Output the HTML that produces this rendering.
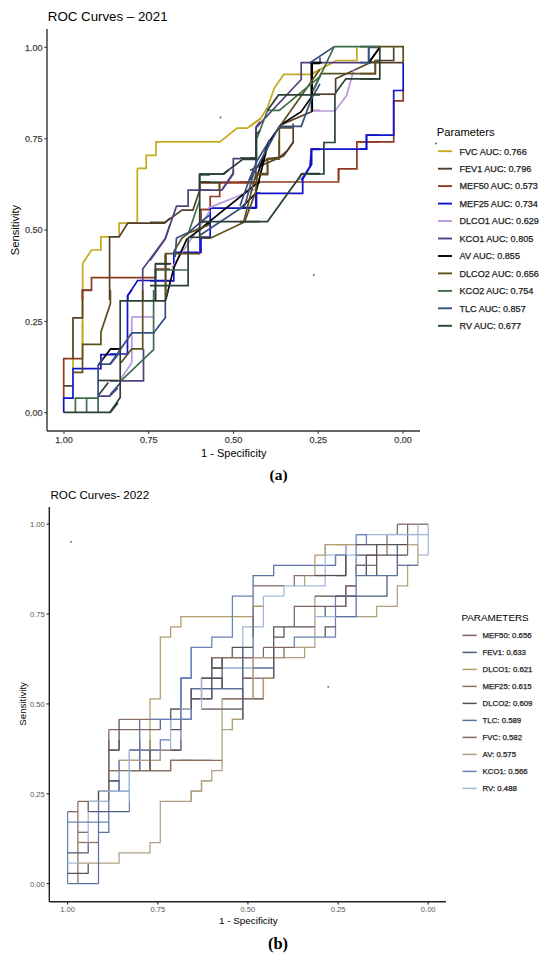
<!DOCTYPE html>
<html><head><meta charset="utf-8"><style>html,body{margin:0;padding:0;background:#fff;width:550px;height:956px;overflow:hidden}</style></head><body>
<svg width="550" height="956" viewBox="0 0 550 956" style="position:absolute;left:0;top:0" font-family='"Liberation Sans", sans-serif'>
<rect width="550" height="956" fill="#fff"/>
<path d="M73.0,368.6 L73.0,358.7" fill="none" stroke="#C4AA1E" stroke-width="1.7" stroke-linejoin="miter"/>
<path d="M82.5,344.4 L82.5,321.3" fill="none" stroke="#C4AA1E" stroke-width="1.7" stroke-linejoin="miter"/>
<path d="M82.7,290.4 L82.7,263.6 L91.5,250.0 L100.9,250.0 L100.9,236.9 L109.6,236.9" fill="none" stroke="#C4AA1E" stroke-width="1.7" stroke-linejoin="miter"/>
<path d="M119.1,236.9 L119.1,223.1 L137.3,223.1 L137.3,168.4" fill="none" stroke="#C4AA1E" stroke-width="1.7" stroke-linejoin="miter"/>
<path d="M250.0,126.4 L260.2,119.1 L267.6,107.3 L274.2,88.3 L283.7,74.4 L311.5,74.4 L320.0,70.0" fill="none" stroke="#C4AA1E" stroke-width="1.7" stroke-linejoin="miter"/>
<path d="M310.0,74.4 L323.2,67.8 L336.4,60.5 L356.9,60.5 L356.9,47.3" fill="none" stroke="#C4AA1E" stroke-width="1.7" stroke-linejoin="miter"/>
<path d="M190.0,141.9 L219.9,141.9 L237.1,128.2 L247.3,128.2 L260.0,118.6" fill="none" stroke="#C4AA1E" stroke-width="1.7" stroke-linejoin="miter"/>
<path d="M137.3,168.4 L146.2,168.4 L146.2,155.3 L156.0,155.3 L156.0,141.8 L190.0,141.8" fill="none" stroke="#C4AA1E" stroke-width="1.7" stroke-linejoin="miter"/>
<path d="M82.6,358.7 L82.6,290.0" fill="none" stroke="#C4AA1E" stroke-width="1.7" stroke-linejoin="miter"/>
<path d="M63.7,385.9 L73.0,385.9" fill="none" stroke="#523E2A" stroke-width="1.7" stroke-linejoin="miter"/>
<path d="M73.0,358.7 L73.0,317.9 L82.5,317.9 L82.5,290.0 L91.3,290.0" fill="none" stroke="#523E2A" stroke-width="1.7" stroke-linejoin="miter"/>
<path d="M109.6,300.0 L109.6,236.9 L119.1,236.9 L127.8,223.1 L164.5,223.1 L170.0,218.2" fill="none" stroke="#523E2A" stroke-width="1.7" stroke-linejoin="miter"/>
<path d="M150.0,222.4 L165.0,222.4 L182.0,210.1 L192.9,210.1 L199.7,190.4 L199.7,182.2 L210.0,182.2" fill="none" stroke="#523E2A" stroke-width="1.7" stroke-linejoin="miter"/>
<path d="M280.7,124.9 L311.5,111.7 L311.5,63.4" fill="none" stroke="#523E2A" stroke-width="1.7" stroke-linejoin="miter"/>
<path d="M293.2,123.5 L293.2,142.5 L283.7,155.7 L250.0,170.3" fill="none" stroke="#523E2A" stroke-width="1.7" stroke-linejoin="miter"/>
<path d="M335.6,94.2 L335.6,78.8 L371.5,62.0 L380.0,62.0" fill="none" stroke="#523E2A" stroke-width="1.7" stroke-linejoin="miter"/>
<path d="M312.9,94.2 L335.6,94.2" fill="none" stroke="#523E2A" stroke-width="1.7" stroke-linejoin="miter"/>
<path d="M312.2,91.2 L312.2,111.7" fill="none" stroke="#523E2A" stroke-width="1.7" stroke-linejoin="miter"/>
<path d="M375.4,60.5 L393.7,60.5 L393.7,47.3" fill="none" stroke="#523E2A" stroke-width="1.7" stroke-linejoin="miter"/>
<path d="M368.8,62.7 L403.2,62.7" fill="none" stroke="#523E2A" stroke-width="1.7" stroke-linejoin="miter"/>
<path d="M255.7,168.2 L267.5,158.8 L279.2,157.3 L287.1,151.0 L293.3,141.6" fill="none" stroke="#523E2A" stroke-width="1.7" stroke-linejoin="miter"/>
<path d="M63.7,398.2 L63.7,358.7 L82.5,358.7" fill="none" stroke="#8E3A20" stroke-width="1.7" stroke-linejoin="miter"/>
<path d="M82.4,300.0 L82.4,290.4 L91.5,290.4 L91.5,277.6 L155.5,277.6 L155.5,269.1 L170.0,269.1" fill="none" stroke="#8E3A20" stroke-width="1.7" stroke-linejoin="miter"/>
<path d="M165.5,255.5 L165.5,269.1" fill="none" stroke="#8E3A20" stroke-width="1.7" stroke-linejoin="miter"/>
<path d="M201.0,220.3 L201.0,209.5 L210.0,209.5" fill="none" stroke="#8E3A20" stroke-width="1.7" stroke-linejoin="miter"/>
<path d="M165.6,253.7 L165.6,263.9" fill="none" stroke="#8E3A20" stroke-width="1.7" stroke-linejoin="miter"/>
<path d="M221.8,182.2 L260.0,182.2" fill="none" stroke="#8E3A20" stroke-width="1.7" stroke-linejoin="miter"/>
<path d="M200.0,209.5 L210.2,209.5 L210.2,196.5 L219.7,196.5 L219.7,182.2" fill="none" stroke="#8E3A20" stroke-width="1.7" stroke-linejoin="miter"/>
<path d="M338.6,180.0 L338.6,168.8 L356.9,168.8 L356.9,141.8 L380.0,141.8" fill="none" stroke="#8E3A20" stroke-width="1.7" stroke-linejoin="miter"/>
<path d="M360.0,141.8 L393.7,141.8 L393.7,100.8 L403.2,100.8 L403.2,90.5" fill="none" stroke="#8E3A20" stroke-width="1.7" stroke-linejoin="miter"/>
<path d="M240.0,182.0 L320.0,182.0" fill="none" stroke="#8E3A20" stroke-width="1.7" stroke-linejoin="miter"/>
<path d="M200.8,182.9 L260.0,182.9" fill="none" stroke="#8E3A20" stroke-width="1.7" stroke-linejoin="miter"/>
<path d="M320.0,182.0 L338.5,182.0 L338.5,168.8" fill="none" stroke="#8E3A20" stroke-width="1.7" stroke-linejoin="miter"/>
<path d="M63.7,412.4 L63.7,398.2 L73.0,398.2 L73.0,368.6 L100.9,368.6 L100.9,354.6 L117.9,354.6" fill="none" stroke="#1212CC" stroke-width="1.7" stroke-linejoin="miter"/>
<path d="M110.0,354.0 L127.5,354.0 L127.5,295.8 L131.8,290.0" fill="none" stroke="#1212CC" stroke-width="1.7" stroke-linejoin="miter"/>
<path d="M127.8,300.0 L127.8,295.5 L137.6,280.5 L170.0,280.5" fill="none" stroke="#1212CC" stroke-width="1.7" stroke-linejoin="miter"/>
<path d="M150.0,280.9 L173.8,280.9 L173.8,252.3 L201.0,252.3 L201.0,238.0 L210.0,238.0" fill="none" stroke="#1212CC" stroke-width="1.7" stroke-linejoin="miter"/>
<path d="M200.0,251.6 L200.0,237.3 L210.2,237.3 L210.2,208.1 L255.8,208.1 L255.8,193.1 L260.0,193.1" fill="none" stroke="#1212CC" stroke-width="1.7" stroke-linejoin="miter"/>
<path d="M301.2,180.0 L311.5,164.5 L311.5,149.1 L320.0,149.1" fill="none" stroke="#1212CC" stroke-width="1.7" stroke-linejoin="miter"/>
<path d="M310.0,165.9 L311.5,149.1 L366.4,149.1 L366.4,135.2 L380.0,135.2" fill="none" stroke="#1212CC" stroke-width="1.7" stroke-linejoin="miter"/>
<path d="M360.0,149.1 L366.6,149.1 L366.6,135.2 L393.7,135.2 L393.7,90.5 L403.2,90.5 L403.2,62.7" fill="none" stroke="#1212CC" stroke-width="1.7" stroke-linejoin="miter"/>
<path d="M240.0,207.5 L256.5,207.5 L256.5,193.3 L302.7,193.3 L302.7,179.2 L311.4,164.3 L311.4,149.4 L320.0,149.4" fill="none" stroke="#1212CC" stroke-width="1.7" stroke-linejoin="miter"/>
<path d="M131.8,316.9 L153.6,316.9" fill="none" stroke="#BA9ADC" stroke-width="1.7" stroke-linejoin="miter"/>
<path d="M131.8,316.9 L131.8,362.7 L120.9,378.7" fill="none" stroke="#BA9ADC" stroke-width="1.7" stroke-linejoin="miter"/>
<path d="M171.8,268.0 L210.0,210.8" fill="none" stroke="#BA9ADC" stroke-width="1.7" stroke-linejoin="miter"/>
<path d="M208.2,208.1 L255.8,189.0" fill="none" stroke="#BA9ADC" stroke-width="1.7" stroke-linejoin="miter"/>
<path d="M311.5,110.3 L320.0,110.3" fill="none" stroke="#BA9ADC" stroke-width="1.7" stroke-linejoin="miter"/>
<path d="M312.9,111.0 L334.9,111.0 L346.6,95.6 L353.9,69.3" fill="none" stroke="#BA9ADC" stroke-width="1.7" stroke-linejoin="miter"/>
<path d="M98.8,396.1 L109.7,396.1 L117.9,388.0" fill="none" stroke="#52407E" stroke-width="1.7" stroke-linejoin="miter"/>
<path d="M110.0,380.9 L143.5,380.9 L143.5,348.9" fill="none" stroke="#52407E" stroke-width="1.7" stroke-linejoin="miter"/>
<path d="M142.7,300.0 L142.7,269.1 L165.5,238.2 L170.0,224.5" fill="none" stroke="#52407E" stroke-width="1.7" stroke-linejoin="miter"/>
<path d="M150.0,260.5 L165.0,239.4 L176.5,206.1 L188.1,206.1 L188.1,190.1 L210.0,190.1" fill="none" stroke="#52407E" stroke-width="1.7" stroke-linejoin="miter"/>
<path d="M201.0,221.7 L210.0,221.7" fill="none" stroke="#52407E" stroke-width="1.7" stroke-linejoin="miter"/>
<path d="M200.0,190.1 L221.8,190.1 L233.3,172.7 L233.3,170.0" fill="none" stroke="#52407E" stroke-width="1.7" stroke-linejoin="miter"/>
<path d="M255.9,180.0 L255.9,127.8 L301.2,79.5 L301.2,62.7 L320.0,62.7 L320.0,57.6" fill="none" stroke="#52407E" stroke-width="1.7" stroke-linejoin="miter"/>
<path d="M310.0,62.7 L368.6,62.7 L368.6,47.3 L380.0,47.3" fill="none" stroke="#52407E" stroke-width="1.7" stroke-linejoin="miter"/>
<path d="M222.5,189.3 L233.3,174.0 L233.3,158.7 L256.2,158.7 L256.2,126.9 L260.0,121.8" fill="none" stroke="#52407E" stroke-width="1.7" stroke-linejoin="miter"/>
<path d="M98.1,365.5 L110.4,349.2 L117.9,349.2" fill="none" stroke="#000000" stroke-width="1.7" stroke-linejoin="miter"/>
<path d="M110.0,348.9 L120.2,348.9" fill="none" stroke="#000000" stroke-width="1.7" stroke-linejoin="miter"/>
<path d="M165.6,300.1 L173.8,268.0 L186.7,239.4 L210.0,222.4" fill="none" stroke="#000000" stroke-width="1.7" stroke-linejoin="miter"/>
<path d="M200.0,229.2 L260.0,180.9" fill="none" stroke="#000000" stroke-width="1.7" stroke-linejoin="miter"/>
<path d="M255.9,180.0 L267.6,144.0 L280.7,124.9 L301.2,111.7 L311.5,97.1 L311.5,63.4 L320.0,63.4" fill="none" stroke="#000000" stroke-width="1.7" stroke-linejoin="miter"/>
<path d="M312.2,62.7 L312.2,111.7" fill="none" stroke="#000000" stroke-width="1.7" stroke-linejoin="miter"/>
<path d="M310.0,62.7 L321.7,62.7" fill="none" stroke="#000000" stroke-width="1.7" stroke-linejoin="miter"/>
<path d="M368.6,62.7 L380.0,47.3" fill="none" stroke="#000000" stroke-width="1.7" stroke-linejoin="miter"/>
<path d="M368.8,62.7 L379.8,47.3" fill="none" stroke="#000000" stroke-width="1.7" stroke-linejoin="miter"/>
<path d="M240.0,209.0 L255.7,193.3 L268.2,143.1 L269.8,140.0" fill="none" stroke="#000000" stroke-width="1.7" stroke-linejoin="miter"/>
<path d="M73.0,372.3 L82.5,372.3 L82.5,344.4 L100.9,344.4 L100.9,332.2 L110.4,303.6 L110.4,290.0" fill="none" stroke="#5E4E1C" stroke-width="1.7" stroke-linejoin="miter"/>
<path d="M142.7,290.0 L142.7,348.9 L131.8,348.9 L120.9,362.7" fill="none" stroke="#5E4E1C" stroke-width="1.7" stroke-linejoin="miter"/>
<path d="M155.5,263.6 L170.0,263.6" fill="none" stroke="#5E4E1C" stroke-width="1.7" stroke-linejoin="miter"/>
<path d="M165.5,253.6 L165.5,300.0" fill="none" stroke="#5E4E1C" stroke-width="1.7" stroke-linejoin="miter"/>
<path d="M165.6,300.1 L165.6,253.7 L200.3,253.7" fill="none" stroke="#5E4E1C" stroke-width="1.7" stroke-linejoin="miter"/>
<path d="M173.8,251.6 L182.0,238.0 L189.5,232.6 L210.0,224.4" fill="none" stroke="#5E4E1C" stroke-width="1.7" stroke-linejoin="miter"/>
<path d="M200.0,238.0 L210.9,238.0 L243.5,222.4 L255.8,174.1 L260.0,174.1" fill="none" stroke="#5E4E1C" stroke-width="1.7" stroke-linejoin="miter"/>
<path d="M255.9,180.0 L256.6,174.7 L267.6,174.7 L267.6,158.6 L279.3,158.6 L279.3,127.8 L292.5,127.8" fill="none" stroke="#5E4E1C" stroke-width="1.7" stroke-linejoin="miter"/>
<path d="M280.7,124.9 L320.0,69.3" fill="none" stroke="#5E4E1C" stroke-width="1.7" stroke-linejoin="miter"/>
<path d="M312.9,91.2 L321.0,73.7 L375.2,73.7 L375.2,60.5 L380.0,60.5" fill="none" stroke="#5E4E1C" stroke-width="1.7" stroke-linejoin="miter"/>
<path d="M360.0,46.6 L403.2,46.6 L403.2,62.7" fill="none" stroke="#5E4E1C" stroke-width="1.7" stroke-linejoin="miter"/>
<path d="M375.4,62.7 L375.4,73.7 L360.0,73.7" fill="none" stroke="#5E4E1C" stroke-width="1.7" stroke-linejoin="miter"/>
<path d="M240.0,223.1 L244.7,221.6 L255.7,191.8 L257.3,173.7 L267.5,173.7 L267.5,158.8 L279.2,158.8 L279.2,140.0" fill="none" stroke="#5E4E1C" stroke-width="1.7" stroke-linejoin="miter"/>
<path d="M219.3,182.9 L219.3,190.0" fill="none" stroke="#5E4E1C" stroke-width="1.7" stroke-linejoin="miter"/>
<path d="M75.4,412.4 L75.4,398.2 L98.1,398.2 L98.1,412.4" fill="none" stroke="#3E6E4C" stroke-width="1.7" stroke-linejoin="miter"/>
<path d="M86.6,412.4 L86.6,398.2" fill="none" stroke="#3E6E4C" stroke-width="1.7" stroke-linejoin="miter"/>
<path d="M120.9,380.9 L153.6,349.6 L153.6,290.0" fill="none" stroke="#3E6E4C" stroke-width="1.7" stroke-linejoin="miter"/>
<path d="M188.1,233.9 L199.7,199.9" fill="none" stroke="#3E6E4C" stroke-width="1.7" stroke-linejoin="miter"/>
<path d="M155.4,270.0 L187.4,270.0" fill="none" stroke="#3E6E4C" stroke-width="1.7" stroke-linejoin="miter"/>
<path d="M255.9,141.0 L267.6,110.3 L279.3,110.3 L320.0,76.6" fill="none" stroke="#3E6E4C" stroke-width="1.7" stroke-linejoin="miter"/>
<path d="M334.2,46.6 L380.0,46.6" fill="none" stroke="#3E6E4C" stroke-width="1.7" stroke-linejoin="miter"/>
<path d="M312.9,91.2 L334.2,46.6" fill="none" stroke="#3E6E4C" stroke-width="1.7" stroke-linejoin="miter"/>
<path d="M98.1,398.2 L98.1,365.5 L102.9,358.0" fill="none" stroke="#36507C" stroke-width="1.7" stroke-linejoin="miter"/>
<path d="M100.9,364.1 L110.4,364.1 L117.9,354.6" fill="none" stroke="#36507C" stroke-width="1.7" stroke-linejoin="miter"/>
<path d="M110.0,364.2 L131.8,332.9 L153.6,332.9 L165.3,317.6 L165.3,300.9" fill="none" stroke="#36507C" stroke-width="1.7" stroke-linejoin="miter"/>
<path d="M110.0,394.7 L120.2,383.1" fill="none" stroke="#36507C" stroke-width="1.7" stroke-linejoin="miter"/>
<path d="M175.2,257.1 L176.5,238.0 L189.5,231.9 L201.0,221.7 L210.0,214.9" fill="none" stroke="#36507C" stroke-width="1.7" stroke-linejoin="miter"/>
<path d="M200.0,235.3 L244.9,205.4 L254.4,170.0" fill="none" stroke="#36507C" stroke-width="1.7" stroke-linejoin="miter"/>
<path d="M250.0,180.0 L279.3,126.4 L301.2,126.4 L311.5,98.6 L320.0,83.9" fill="none" stroke="#36507C" stroke-width="1.7" stroke-linejoin="miter"/>
<path d="M310.0,62.7 L334.2,46.6" fill="none" stroke="#36507C" stroke-width="1.7" stroke-linejoin="miter"/>
<path d="M368.8,46.6 L368.8,62.7 L360.0,62.7" fill="none" stroke="#36507C" stroke-width="1.7" stroke-linejoin="miter"/>
<path d="M240.0,205.9 L249.4,179.2 L257.3,160.4 L269.8,140.0" fill="none" stroke="#36507C" stroke-width="1.7" stroke-linejoin="miter"/>
<path d="M63.7,412.4 L110.4,412.4 L117.9,402.9" fill="none" stroke="#2A4034" stroke-width="1.7" stroke-linejoin="miter"/>
<path d="M98.1,380.5 L117.9,380.5" fill="none" stroke="#2A4034" stroke-width="1.7" stroke-linejoin="miter"/>
<path d="M98.8,394.8 L108.3,382.5" fill="none" stroke="#2A4034" stroke-width="1.7" stroke-linejoin="miter"/>
<path d="M110.0,412.2 L120.2,397.6 L120.2,300.9 L165.3,300.9 L168.2,290.0" fill="none" stroke="#2A4034" stroke-width="1.7" stroke-linejoin="miter"/>
<path d="M155.5,269.1 L155.5,300.0" fill="none" stroke="#2A4034" stroke-width="1.7" stroke-linejoin="miter"/>
<path d="M199.7,174.8 L210.0,174.8" fill="none" stroke="#2A4034" stroke-width="1.7" stroke-linejoin="miter"/>
<path d="M199.7,174.8 L199.7,238.0" fill="none" stroke="#2A4034" stroke-width="1.7" stroke-linejoin="miter"/>
<path d="M188.1,237.3 L210.0,237.3" fill="none" stroke="#2A4034" stroke-width="1.7" stroke-linejoin="miter"/>
<path d="M155.4,300.1 L155.4,263.9 L171.1,263.9" fill="none" stroke="#2A4034" stroke-width="1.7" stroke-linejoin="miter"/>
<path d="M150.0,285.6 L188.1,285.6 L188.1,238.0" fill="none" stroke="#2A4034" stroke-width="1.7" stroke-linejoin="miter"/>
<path d="M200.0,174.1 L223.8,174.1 L228.6,170.0" fill="none" stroke="#2A4034" stroke-width="1.7" stroke-linejoin="miter"/>
<path d="M200.0,182.2 L221.8,182.2" fill="none" stroke="#2A4034" stroke-width="1.7" stroke-linejoin="miter"/>
<path d="M200.0,221.7 L260.0,221.7" fill="none" stroke="#2A4034" stroke-width="1.7" stroke-linejoin="miter"/>
<path d="M250.0,157.9 L255.9,157.9" fill="none" stroke="#2A4034" stroke-width="1.7" stroke-linejoin="miter"/>
<path d="M267.6,110.3 L278.6,94.9 L320.0,94.9" fill="none" stroke="#2A4034" stroke-width="1.7" stroke-linejoin="miter"/>
<path d="M298.3,180.0 L301.2,174.0 L320.0,174.0" fill="none" stroke="#2A4034" stroke-width="1.7" stroke-linejoin="miter"/>
<path d="M335.6,92.7 L345.9,78.8 L380.0,78.8" fill="none" stroke="#2A4034" stroke-width="1.7" stroke-linejoin="miter"/>
<path d="M334.9,94.2 L334.9,142.5 L323.9,142.5 L323.9,174.0 L310.0,174.0" fill="none" stroke="#2A4034" stroke-width="1.7" stroke-linejoin="miter"/>
<path d="M379.8,47.3 L379.8,78.8 L360.0,78.8" fill="none" stroke="#2A4034" stroke-width="1.7" stroke-linejoin="miter"/>
<path d="M240.0,221.6 L267.5,221.6 L302.0,173.7 L320.0,173.7" fill="none" stroke="#2A4034" stroke-width="1.7" stroke-linejoin="miter"/>
<path d="M240.0,158.0 L256.5,158.0 L256.5,140.0" fill="none" stroke="#2A4034" stroke-width="1.7" stroke-linejoin="miter"/>
<path d="M199.5,189.3 L199.5,174.0 L223.1,174.0 L242.8,159.4 L256.2,159.4 L256.2,134.5 L260.0,130.7" fill="none" stroke="#2A4034" stroke-width="1.7" stroke-linejoin="miter"/>
<path d="M67.6,883.6 L98.5,883.6" fill="none" stroke="#5A70A0" stroke-width="1.25" stroke-linejoin="miter"/>
<path d="M67.6,883.6 L67.6,811.7" fill="none" stroke="#6A80B8" stroke-width="1.25" stroke-linejoin="miter"/>
<path d="M67.6,811.7 L77.9,811.7" fill="none" stroke="#7A6460" stroke-width="1.25" stroke-linejoin="miter"/>
<path d="M77.9,883.6 L77.9,801.4" fill="none" stroke="#8A7060" stroke-width="1.25" stroke-linejoin="miter"/>
<path d="M77.9,801.4 L98.5,801.4" fill="none" stroke="#806860" stroke-width="1.25" stroke-linejoin="miter"/>
<path d="M88.2,811.7 L88.2,801.4" fill="none" stroke="#5A4E55" stroke-width="1.25" stroke-linejoin="miter"/>
<path d="M88.2,811.7 L129.4,811.7" fill="none" stroke="#4C5A7A" stroke-width="1.25" stroke-linejoin="miter"/>
<path d="M129.4,811.7 L129.4,750.1" fill="none" stroke="#6A80B8" stroke-width="1.25" stroke-linejoin="miter"/>
<path d="M67.6,873.3 L88.2,873.3 L88.2,863.1" fill="none" stroke="#5A4E55" stroke-width="1.25" stroke-linejoin="miter"/>
<path d="M67.6,863.1 L77.9,863.1" fill="none" stroke="#A0B8D8" stroke-width="1.25" stroke-linejoin="miter"/>
<path d="M77.9,863.1 L119.1,863.1 L119.1,852.8 L150.0,852.8 L150.0,842.5 L160.3,842.5 L160.3,801.4 L191.2,801.4 L191.2,791.2 L201.5,791.2 L201.5,780.9 L211.8,780.9" fill="none" stroke="#B0A080" stroke-width="1.25" stroke-linejoin="miter"/>
<path d="M67.6,852.8 L88.2,852.8 L88.2,842.5" fill="none" stroke="#4C5A7A" stroke-width="1.25" stroke-linejoin="miter"/>
<path d="M77.9,842.5 L98.5,842.5" fill="none" stroke="#8A7060" stroke-width="1.25" stroke-linejoin="miter"/>
<path d="M77.9,832.3 L88.2,832.3" fill="none" stroke="#7A6460" stroke-width="1.25" stroke-linejoin="miter"/>
<path d="M88.2,842.5 L88.2,811.7" fill="none" stroke="#A0B8D8" stroke-width="1.25" stroke-linejoin="miter"/>
<path d="M98.5,832.3 L108.8,832.3 L108.8,791.2" fill="none" stroke="#5A70A0" stroke-width="1.25" stroke-linejoin="miter"/>
<path d="M67.6,822.0 L108.8,822.0" fill="none" stroke="#6A80B8" stroke-width="1.25" stroke-linejoin="miter"/>
<path d="M98.5,883.6 L98.5,801.4" fill="none" stroke="#5A70A0" stroke-width="1.25" stroke-linejoin="miter"/>
<path d="M98.5,801.4 L98.5,791.2 L108.8,791.2" fill="none" stroke="#7A6460" stroke-width="1.25" stroke-linejoin="miter"/>
<path d="M98.5,801.4 L108.8,801.4" fill="none" stroke="#A0B8D8" stroke-width="1.25" stroke-linejoin="miter"/>
<path d="M108.8,791.2 L129.4,791.2" fill="none" stroke="#6A80B8" stroke-width="1.25" stroke-linejoin="miter"/>
<path d="M108.8,791.2 L108.8,739.8" fill="none" stroke="#5A4E55" stroke-width="1.25" stroke-linejoin="miter"/>
<path d="M108.8,780.9 L119.1,780.9 L119.1,791.2" fill="none" stroke="#4C5A7A" stroke-width="1.25" stroke-linejoin="miter"/>
<path d="M108.8,770.6 L119.1,770.6 L119.1,760.4 L139.7,760.4" fill="none" stroke="#B59A6A" stroke-width="1.25" stroke-linejoin="miter"/>
<path d="M119.1,770.6 L139.7,770.6" fill="none" stroke="#A0B8D8" stroke-width="1.25" stroke-linejoin="miter"/>
<path d="M108.8,750.1 L119.1,750.1 L119.1,739.8" fill="none" stroke="#7A6460" stroke-width="1.25" stroke-linejoin="miter"/>
<path d="M129.4,750.1 L139.7,750.1" fill="none" stroke="#6A80B8" stroke-width="1.25" stroke-linejoin="miter"/>
<path d="M129.4,770.6 L170.6,770.6 L170.6,760.4 L211.8,760.4" fill="none" stroke="#5A4E55" stroke-width="1.25" stroke-linejoin="miter"/>
<path d="M150.0,770.6 L150.0,739.8" fill="none" stroke="#5A4E55" stroke-width="1.25" stroke-linejoin="miter"/>
<path d="M139.7,770.6 L139.7,739.8" fill="none" stroke="#5A70A0" stroke-width="1.25" stroke-linejoin="miter"/>
<path d="M160.3,760.4 L160.3,750.1" fill="none" stroke="#A0B8D8" stroke-width="1.25" stroke-linejoin="miter"/>
<path d="M129.4,750.1 L180.9,750.1 L180.9,739.8" fill="none" stroke="#7A6460" stroke-width="1.25" stroke-linejoin="miter"/>
<path d="M129.4,760.4 L160.3,760.4" fill="none" stroke="#A0B8D8" stroke-width="1.25" stroke-linejoin="miter"/>
<path d="M150.0,770.6 L150.0,698.8 L160.3,698.8 L160.3,637.1 L170.6,637.1 L170.6,626.9 L180.9,626.9 L180.9,616.6 L253.1,616.6 L253.1,606.3 L263.4,606.3" fill="none" stroke="#B59A6A" stroke-width="1.25" stroke-linejoin="miter"/>
<path d="M180.9,709.0 L180.9,678.2 L191.2,678.2" fill="none" stroke="#5A70A0" stroke-width="1.25" stroke-linejoin="miter"/>
<path d="M170.6,729.6 L170.6,709.0 L180.9,709.0" fill="none" stroke="#7A6460" stroke-width="1.25" stroke-linejoin="miter"/>
<path d="M119.1,719.3 L160.3,719.3" fill="none" stroke="#8A7060" stroke-width="1.25" stroke-linejoin="miter"/>
<path d="M160.3,719.3 L191.2,719.3" fill="none" stroke="#A0B8D8" stroke-width="1.25" stroke-linejoin="miter"/>
<path d="M108.8,729.6 L160.3,729.6" fill="none" stroke="#806860" stroke-width="1.25" stroke-linejoin="miter"/>
<path d="M170.6,729.6 L180.9,729.6 L180.9,719.3" fill="none" stroke="#5A4E55" stroke-width="1.25" stroke-linejoin="miter"/>
<path d="M108.8,801.4 L108.8,729.6" fill="none" stroke="#806860" stroke-width="1.25" stroke-linejoin="miter"/>
<path d="M119.1,750.1 L119.1,719.3" fill="none" stroke="#5A4E55" stroke-width="1.25" stroke-linejoin="miter"/>
<path d="M108.8,750.1 L119.1,750.1" fill="none" stroke="#5A4E55" stroke-width="1.25" stroke-linejoin="miter"/>
<path d="M139.7,770.6 L139.7,719.3" fill="none" stroke="#5A70A0" stroke-width="1.25" stroke-linejoin="miter"/>
<path d="M129.4,750.1 L160.3,750.1 L160.3,739.8 L170.6,739.8" fill="none" stroke="#6A80B8" stroke-width="1.25" stroke-linejoin="miter"/>
<path d="M119.1,760.4 L160.3,760.4 L160.3,750.1" fill="none" stroke="#B0A080" stroke-width="1.25" stroke-linejoin="miter"/>
<path d="M108.8,770.6 L170.6,770.6 L170.6,760.4 L191.2,760.4" fill="none" stroke="#8A7060" stroke-width="1.25" stroke-linejoin="miter"/>
<path d="M119.1,791.2 L119.1,760.4" fill="none" stroke="#6A80B8" stroke-width="1.25" stroke-linejoin="miter"/>
<path d="M108.8,780.9 L119.1,780.9" fill="none" stroke="#4C5A7A" stroke-width="1.25" stroke-linejoin="miter"/>
<path d="M98.5,791.2 L129.4,791.2" fill="none" stroke="#A0B8D8" stroke-width="1.25" stroke-linejoin="miter"/>
<path d="M98.5,801.4 L98.5,791.2" fill="none" stroke="#5A4E55" stroke-width="1.25" stroke-linejoin="miter"/>
<path d="M88.2,801.4 L108.8,801.4" fill="none" stroke="#A0B8D8" stroke-width="1.25" stroke-linejoin="miter"/>
<path d="M129.4,801.4 L129.4,750.1" fill="none" stroke="#A0B8D8" stroke-width="1.25" stroke-linejoin="miter"/>
<path d="M170.6,750.1 L170.6,709.0" fill="none" stroke="#A0B8D8" stroke-width="1.25" stroke-linejoin="miter"/>
<path d="M150.0,770.6 L150.0,750.1" fill="none" stroke="#5A4E55" stroke-width="1.25" stroke-linejoin="miter"/>
<path d="M170.6,750.1 L180.9,750.1" fill="none" stroke="#5A4E55" stroke-width="1.25" stroke-linejoin="miter"/>
<path d="M150.0,719.3 L180.9,719.3 L180.9,678.2 L191.2,678.2 L191.2,647.4 L211.8,647.4 L211.8,637.1 L232.4,637.1 L232.4,596.1 L253.1,596.1" fill="none" stroke="#6A80B8" stroke-width="1.25" stroke-linejoin="miter"/>
<path d="M242.8,698.8 L242.8,626.9 L253.1,626.9" fill="none" stroke="#A0B8D8" stroke-width="1.25" stroke-linejoin="miter"/>
<path d="M232.4,657.7 L232.4,647.4 L253.1,647.4" fill="none" stroke="#5A4E55" stroke-width="1.25" stroke-linejoin="miter"/>
<path d="M211.8,668.0 L211.8,657.7 L253.1,657.7" fill="none" stroke="#5A4E55" stroke-width="1.25" stroke-linejoin="miter"/>
<path d="M211.8,668.0 L222.1,668.0 L222.1,657.7" fill="none" stroke="#5A4E55" stroke-width="1.25" stroke-linejoin="miter"/>
<path d="M222.1,668.0 L253.1,668.0" fill="none" stroke="#A0B8D8" stroke-width="1.25" stroke-linejoin="miter"/>
<path d="M211.8,688.5 L211.8,668.0" fill="none" stroke="#A0B8D8" stroke-width="1.25" stroke-linejoin="miter"/>
<path d="M201.5,698.8 L201.5,678.2 L222.1,678.2 L222.1,688.5" fill="none" stroke="#4C5A7A" stroke-width="1.25" stroke-linejoin="miter"/>
<path d="M242.8,678.2 L253.1,678.2" fill="none" stroke="#8A7060" stroke-width="1.25" stroke-linejoin="miter"/>
<path d="M191.2,709.0 L191.2,688.5 L242.8,688.5" fill="none" stroke="#4C5A7A" stroke-width="1.25" stroke-linejoin="miter"/>
<path d="M191.2,698.8 L211.8,698.8 L211.8,688.5" fill="none" stroke="#5A70A0" stroke-width="1.25" stroke-linejoin="miter"/>
<path d="M222.1,729.6 L222.1,698.8 L253.1,698.8" fill="none" stroke="#B0A080" stroke-width="1.25" stroke-linejoin="miter"/>
<path d="M170.6,719.3 L170.6,709.0 L191.2,709.0" fill="none" stroke="#7A6460" stroke-width="1.25" stroke-linejoin="miter"/>
<path d="M201.5,709.0 L242.8,709.0" fill="none" stroke="#A0B8D8" stroke-width="1.25" stroke-linejoin="miter"/>
<path d="M242.8,719.3 L242.8,688.5" fill="none" stroke="#8A7060" stroke-width="1.25" stroke-linejoin="miter"/>
<path d="M232.4,729.6 L232.4,719.3 L242.8,719.3" fill="none" stroke="#B0A080" stroke-width="1.25" stroke-linejoin="miter"/>
<path d="M180.9,719.3 L191.2,719.3 L191.2,709.0" fill="none" stroke="#5A70A0" stroke-width="1.25" stroke-linejoin="miter"/>
<path d="M160.3,729.6 L160.3,719.3" fill="none" stroke="#4C5A7A" stroke-width="1.25" stroke-linejoin="miter"/>
<path d="M191.2,801.4 L191.2,791.2 L201.5,791.2 L201.5,780.9 L211.8,780.9 L211.8,770.6 L222.1,770.6 L222.1,729.6 L232.4,729.6 L232.4,719.3 L242.8,719.3 L242.8,698.8" fill="none" stroke="#B0A080" stroke-width="1.25" stroke-linejoin="miter"/>
<path d="M180.9,760.4 L222.1,760.4" fill="none" stroke="#8A7060" stroke-width="1.25" stroke-linejoin="miter"/>
<path d="M201.5,709.0 L242.8,709.0" fill="none" stroke="#7A6460" stroke-width="1.25" stroke-linejoin="miter"/>
<path d="M191.2,698.8 L211.8,698.8" fill="none" stroke="#5A4E55" stroke-width="1.25" stroke-linejoin="miter"/>
<path d="M222.1,698.8 L242.8,698.8" fill="none" stroke="#806860" stroke-width="1.25" stroke-linejoin="miter"/>
<path d="M242.8,698.8 L263.4,698.8" fill="none" stroke="#7A6460" stroke-width="1.25" stroke-linejoin="miter"/>
<path d="M191.2,709.0 L191.2,688.5" fill="none" stroke="#5A4E55" stroke-width="1.25" stroke-linejoin="miter"/>
<path d="M191.2,688.5 L242.8,688.5" fill="none" stroke="#5A70A0" stroke-width="1.25" stroke-linejoin="miter"/>
<path d="M201.5,709.0 L201.5,678.2" fill="none" stroke="#A0B8D8" stroke-width="1.25" stroke-linejoin="miter"/>
<path d="M201.5,678.2 L222.1,678.2" fill="none" stroke="#5A4E55" stroke-width="1.25" stroke-linejoin="miter"/>
<path d="M211.8,698.8 L211.8,657.7" fill="none" stroke="#5A4E55" stroke-width="1.25" stroke-linejoin="miter"/>
<path d="M211.8,668.0 L222.1,668.0" fill="none" stroke="#5A4E55" stroke-width="1.25" stroke-linejoin="miter"/>
<path d="M222.1,668.0 L273.7,668.0" fill="none" stroke="#A0B8D8" stroke-width="1.25" stroke-linejoin="miter"/>
<path d="M222.1,688.5 L222.1,657.7" fill="none" stroke="#5A4E55" stroke-width="1.25" stroke-linejoin="miter"/>
<path d="M211.8,657.7 L284.0,657.7" fill="none" stroke="#8A7060" stroke-width="1.25" stroke-linejoin="miter"/>
<path d="M232.4,657.7 L232.4,647.4" fill="none" stroke="#806860" stroke-width="1.25" stroke-linejoin="miter"/>
<path d="M242.8,719.3 L242.8,647.4" fill="none" stroke="#4C5A7A" stroke-width="1.25" stroke-linejoin="miter"/>
<path d="M253.1,698.8 L253.1,657.7" fill="none" stroke="#B0A080" stroke-width="1.25" stroke-linejoin="miter"/>
<path d="M253.1,698.8 L263.4,698.8 L263.4,678.2" fill="none" stroke="#7A6460" stroke-width="1.25" stroke-linejoin="miter"/>
<path d="M242.8,678.2 L273.7,678.2" fill="none" stroke="#7A6460" stroke-width="1.25" stroke-linejoin="miter"/>
<path d="M273.7,678.2 L273.7,647.4" fill="none" stroke="#6A80B8" stroke-width="1.25" stroke-linejoin="miter"/>
<path d="M263.4,657.7 L263.4,647.4" fill="none" stroke="#806860" stroke-width="1.25" stroke-linejoin="miter"/>
<path d="M180.9,750.1 L180.9,678.2" fill="none" stroke="#6A80B8" stroke-width="1.25" stroke-linejoin="miter"/>
<path d="M180.9,678.2 L191.2,678.2 L191.2,647.4" fill="none" stroke="#6A80B8" stroke-width="1.25" stroke-linejoin="miter"/>
<path d="M180.9,709.0 L191.2,709.0" fill="none" stroke="#A0B8D8" stroke-width="1.25" stroke-linejoin="miter"/>
<path d="M180.9,719.3 L191.2,719.3 L191.2,709.0" fill="none" stroke="#6A80B8" stroke-width="1.25" stroke-linejoin="miter"/>
<path d="M253.1,698.8 L253.1,657.7 L304.6,657.7 L304.6,647.4" fill="none" stroke="#B0A080" stroke-width="1.25" stroke-linejoin="miter"/>
<path d="M294.3,647.4 L314.9,647.4 L314.9,596.1" fill="none" stroke="#B0A080" stroke-width="1.25" stroke-linejoin="miter"/>
<path d="M263.4,698.8 L263.4,678.2 L273.7,678.2" fill="none" stroke="#B59A6A" stroke-width="1.25" stroke-linejoin="miter"/>
<path d="M273.7,678.2 L273.7,626.9 L314.9,626.9" fill="none" stroke="#5A4E55" stroke-width="1.25" stroke-linejoin="miter"/>
<path d="M273.7,637.1 L284.0,637.1 L284.0,626.9" fill="none" stroke="#5A4E55" stroke-width="1.25" stroke-linejoin="miter"/>
<path d="M253.1,668.0 L273.7,668.0" fill="none" stroke="#5A70A0" stroke-width="1.25" stroke-linejoin="miter"/>
<path d="M263.4,647.4 L294.3,647.4" fill="none" stroke="#806860" stroke-width="1.25" stroke-linejoin="miter"/>
<path d="M284.0,657.7 L284.0,647.4" fill="none" stroke="#806860" stroke-width="1.25" stroke-linejoin="miter"/>
<path d="M294.3,647.4 L294.3,637.1 L335.5,637.1 L335.5,596.1" fill="none" stroke="#6A80B8" stroke-width="1.25" stroke-linejoin="miter"/>
<path d="M314.9,616.6 L356.1,616.6" fill="none" stroke="#A0B8D8" stroke-width="1.25" stroke-linejoin="miter"/>
<path d="M325.2,637.1 L325.2,626.9 L335.5,626.9" fill="none" stroke="#5A4E55" stroke-width="1.25" stroke-linejoin="miter"/>
<path d="M294.3,626.9 L294.3,606.3 L345.8,606.3 L345.8,585.8 L356.1,585.8" fill="none" stroke="#7A6460" stroke-width="1.25" stroke-linejoin="miter"/>
<path d="M325.2,616.6 L325.2,606.3" fill="none" stroke="#4C5A7A" stroke-width="1.25" stroke-linejoin="miter"/>
<path d="M314.9,596.1 L356.1,596.1" fill="none" stroke="#5A4E55" stroke-width="1.25" stroke-linejoin="miter"/>
<path d="M253.1,657.7 L253.1,575.5 L273.7,575.5 L273.7,565.3 L325.2,565.3 L335.5,565.3 L335.5,555.0" fill="none" stroke="#5A70A0" stroke-width="1.25" stroke-linejoin="miter"/>
<path d="M325.2,555.0 L356.1,555.0" fill="none" stroke="#A0B8D8" stroke-width="1.25" stroke-linejoin="miter"/>
<path d="M253.1,585.8 L284.0,585.8" fill="none" stroke="#7A6460" stroke-width="1.25" stroke-linejoin="miter"/>
<path d="M284.0,585.8 L325.2,585.8 L325.2,544.7" fill="none" stroke="#A0B8D8" stroke-width="1.25" stroke-linejoin="miter"/>
<path d="M284.0,596.1 L284.0,585.8" fill="none" stroke="#A0B8D8" stroke-width="1.25" stroke-linejoin="miter"/>
<path d="M263.4,596.1 L284.0,596.1" fill="none" stroke="#A0B8D8" stroke-width="1.25" stroke-linejoin="miter"/>
<path d="M263.4,626.9 L263.4,596.1" fill="none" stroke="#A0B8D8" stroke-width="1.25" stroke-linejoin="miter"/>
<path d="M253.1,626.9 L263.4,626.9" fill="none" stroke="#A0B8D8" stroke-width="1.25" stroke-linejoin="miter"/>
<path d="M253.1,606.3 L263.4,606.3" fill="none" stroke="#B59A6A" stroke-width="1.25" stroke-linejoin="miter"/>
<path d="M294.3,585.8 L294.3,575.5 L325.2,575.5" fill="none" stroke="#8A7060" stroke-width="1.25" stroke-linejoin="miter"/>
<path d="M304.6,585.8 L304.6,575.5" fill="none" stroke="#B0A080" stroke-width="1.25" stroke-linejoin="miter"/>
<path d="M314.9,575.5 L314.9,555.0 L325.2,555.0 L325.2,544.7 L345.8,544.7" fill="none" stroke="#B59A6A" stroke-width="1.25" stroke-linejoin="miter"/>
<path d="M345.8,575.5 L345.8,544.7" fill="none" stroke="#5A4E55" stroke-width="1.25" stroke-linejoin="miter"/>
<path d="M314.9,575.5 L345.8,575.5" fill="none" stroke="#5A4E55" stroke-width="1.25" stroke-linejoin="miter"/>
<path d="M345.8,555.0 L345.8,544.7" fill="none" stroke="#A0B8D8" stroke-width="1.25" stroke-linejoin="miter"/>
<path d="M253.1,637.1 L253.1,616.6" fill="none" stroke="#7A6460" stroke-width="1.25" stroke-linejoin="miter"/>
<path d="M356.1,616.6 L376.7,616.6 L376.7,606.3 L397.3,606.3 L397.3,585.8 L407.6,585.8 L407.6,565.3 L417.9,565.3 L417.9,544.7" fill="none" stroke="#B0A080" stroke-width="1.25" stroke-linejoin="miter"/>
<path d="M335.5,616.6 L356.1,616.6 L356.1,575.5 L397.3,575.5" fill="none" stroke="#5A70A0" stroke-width="1.25" stroke-linejoin="miter"/>
<path d="M335.5,596.1 L387.0,596.1 L387.0,575.5" fill="none" stroke="#4C5A7A" stroke-width="1.25" stroke-linejoin="miter"/>
<path d="M335.5,606.3 L345.8,606.3 L345.8,585.8 L356.1,585.8" fill="none" stroke="#7A6460" stroke-width="1.25" stroke-linejoin="miter"/>
<path d="M335.5,575.5 L345.8,575.5 L345.8,555.0" fill="none" stroke="#5A4E55" stroke-width="1.25" stroke-linejoin="miter"/>
<path d="M356.1,575.5 L356.1,565.3 L366.4,565.3" fill="none" stroke="#8A7060" stroke-width="1.25" stroke-linejoin="miter"/>
<path d="M366.4,575.5 L366.4,555.0 L376.7,555.0" fill="none" stroke="#8A7060" stroke-width="1.25" stroke-linejoin="miter"/>
<path d="M376.7,575.5 L376.7,544.7 L407.6,544.7" fill="none" stroke="#5A4E55" stroke-width="1.25" stroke-linejoin="miter"/>
<path d="M387.0,555.0 L387.0,534.5" fill="none" stroke="#806860" stroke-width="1.25" stroke-linejoin="miter"/>
<path d="M387.0,534.5 L417.9,534.5" fill="none" stroke="#A0B8D8" stroke-width="1.25" stroke-linejoin="miter"/>
<path d="M407.6,555.0 L407.6,524.2" fill="none" stroke="#7A6460" stroke-width="1.25" stroke-linejoin="miter"/>
<path d="M397.3,524.2 L428.2,524.2" fill="none" stroke="#7A6460" stroke-width="1.25" stroke-linejoin="miter"/>
<path d="M397.3,534.5 L397.3,524.2" fill="none" stroke="#7A6460" stroke-width="1.25" stroke-linejoin="miter"/>
<path d="M417.9,544.7 L417.9,524.2" fill="none" stroke="#A0B8D8" stroke-width="1.25" stroke-linejoin="miter"/>
<path d="M428.2,555.0 L428.2,524.2" fill="none" stroke="#A0B8D8" stroke-width="1.25" stroke-linejoin="miter"/>
<path d="M417.9,555.0 L428.2,555.0" fill="none" stroke="#A0B8D8" stroke-width="1.25" stroke-linejoin="miter"/>
<path d="M356.1,555.0 L407.6,555.0" fill="none" stroke="#5A4E55" stroke-width="1.25" stroke-linejoin="miter"/>
<path d="M335.5,544.7 L356.1,544.7" fill="none" stroke="#B59A6A" stroke-width="1.25" stroke-linejoin="miter"/>
<path d="M356.1,575.5 L356.1,534.5" fill="none" stroke="#6A80B8" stroke-width="1.25" stroke-linejoin="miter"/>
<path d="M356.1,534.5 L428.2,534.5" fill="none" stroke="#A0B8D8" stroke-width="1.25" stroke-linejoin="miter"/>
<path d="M366.4,575.5 L366.4,555.0" fill="none" stroke="#4C5A7A" stroke-width="1.25" stroke-linejoin="miter"/>
<path d="M356.1,565.3 L376.7,565.3" fill="none" stroke="#7A6460" stroke-width="1.25" stroke-linejoin="miter"/>
<path d="M397.3,575.5 L397.3,544.7" fill="none" stroke="#4C5A7A" stroke-width="1.25" stroke-linejoin="miter"/>
<path d="M397.3,565.3 L417.9,565.3" fill="none" stroke="#5A70A0" stroke-width="1.25" stroke-linejoin="miter"/>
<path d="M407.6,544.7 L417.9,544.7" fill="none" stroke="#B0A080" stroke-width="1.25" stroke-linejoin="miter"/>
<path d="M345.8,555.0 L345.8,544.7" fill="none" stroke="#A0B8D8" stroke-width="1.25" stroke-linejoin="miter"/>
<path d="M335.5,555.0 L345.8,555.0" fill="none" stroke="#6A80B8" stroke-width="1.25" stroke-linejoin="miter"/>
<path d="M335.5,565.3 L335.5,555.0" fill="none" stroke="#6A80B8" stroke-width="1.25" stroke-linejoin="miter"/>
<path d="M356.1,534.5 L366.4,534.5 L366.4,544.7" fill="none" stroke="#6A80B8" stroke-width="1.25" stroke-linejoin="miter"/>
<path d="M356.1,544.7 L376.7,544.7" fill="none" stroke="#5A4E55" stroke-width="1.25" stroke-linejoin="miter"/>
<line x1="47.0" y1="29" x2="47.0" y2="431.0" stroke="#333" stroke-width="1.4"/>
<line x1="47.0" y1="431.0" x2="420" y2="431.0" stroke="#333" stroke-width="1.4"/>
<line x1="44.3" y1="412.7" x2="47.0" y2="412.7" stroke="#333" stroke-width="1.1"/>
<text x="42.5" y="415.9" font-size="9" text-anchor="end" fill="#444" stroke="#444" stroke-width="0.25">0.00</text>
<line x1="44.3" y1="321.4" x2="47.0" y2="321.4" stroke="#333" stroke-width="1.1"/>
<text x="42.5" y="324.6" font-size="9" text-anchor="end" fill="#444" stroke="#444" stroke-width="0.25">0.25</text>
<line x1="44.3" y1="230.0" x2="47.0" y2="230.0" stroke="#333" stroke-width="1.1"/>
<text x="42.5" y="233.2" font-size="9" text-anchor="end" fill="#444" stroke="#444" stroke-width="0.25">0.50</text>
<line x1="44.3" y1="138.7" x2="47.0" y2="138.7" stroke="#333" stroke-width="1.1"/>
<text x="42.5" y="141.9" font-size="9" text-anchor="end" fill="#444" stroke="#444" stroke-width="0.25">0.75</text>
<line x1="44.3" y1="47.3" x2="47.0" y2="47.3" stroke="#333" stroke-width="1.1"/>
<text x="42.5" y="50.5" font-size="9" text-anchor="end" fill="#444" stroke="#444" stroke-width="0.25">1.00</text>
<line x1="64.0" y1="431.0" x2="64.0" y2="433.7" stroke="#333" stroke-width="1.1"/>
<text x="64.0" y="442.9" font-size="9" text-anchor="middle" fill="#444" stroke="#444" stroke-width="0.25">1.00</text>
<line x1="148.8" y1="431.0" x2="148.8" y2="433.7" stroke="#333" stroke-width="1.1"/>
<text x="148.8" y="442.9" font-size="9" text-anchor="middle" fill="#444" stroke="#444" stroke-width="0.25">0.75</text>
<line x1="233.5" y1="431.0" x2="233.5" y2="433.7" stroke="#333" stroke-width="1.1"/>
<text x="233.5" y="442.9" font-size="9" text-anchor="middle" fill="#444" stroke="#444" stroke-width="0.25">0.50</text>
<line x1="318.2" y1="431.0" x2="318.2" y2="433.7" stroke="#333" stroke-width="1.1"/>
<text x="318.2" y="442.9" font-size="9" text-anchor="middle" fill="#444" stroke="#444" stroke-width="0.25">0.25</text>
<line x1="403.0" y1="431.0" x2="403.0" y2="433.7" stroke="#333" stroke-width="1.1"/>
<text x="403.0" y="442.9" font-size="9" text-anchor="middle" fill="#444" stroke="#444" stroke-width="0.25">0.00</text>
<text transform="translate(18.9,230.0) rotate(-90)" font-size="11.2" text-anchor="middle" fill="#000">Sensitivity</text>
<text x="233.8" y="456.8" font-size="11" text-anchor="middle" fill="#000">1 - Specificity</text>
<text x="47.8" y="21" font-size="13.3" fill="#000">ROC Curves – 2021</text>
<line x1="49.3" y1="507" x2="49.3" y2="901.8" stroke="#222" stroke-width="1.4"/>
<line x1="49.3" y1="901.8" x2="446" y2="901.8" stroke="#222" stroke-width="1.4"/>
<line x1="46.599999999999994" y1="883.6" x2="49.3" y2="883.6" stroke="#222" stroke-width="1.1"/>
<text x="44.8" y="886.8" font-size="7.6" text-anchor="end" fill="#555">0.00</text>
<line x1="46.599999999999994" y1="793.8" x2="49.3" y2="793.8" stroke="#222" stroke-width="1.1"/>
<text x="44.8" y="797.0" font-size="7.6" text-anchor="end" fill="#555">0.25</text>
<line x1="46.599999999999994" y1="703.9" x2="49.3" y2="703.9" stroke="#222" stroke-width="1.1"/>
<text x="44.8" y="707.1" font-size="7.6" text-anchor="end" fill="#555">0.50</text>
<line x1="46.599999999999994" y1="614.1" x2="49.3" y2="614.1" stroke="#222" stroke-width="1.1"/>
<text x="44.8" y="617.3" font-size="7.6" text-anchor="end" fill="#555">0.75</text>
<line x1="46.599999999999994" y1="524.2" x2="49.3" y2="524.2" stroke="#222" stroke-width="1.1"/>
<text x="44.8" y="527.4" font-size="7.6" text-anchor="end" fill="#555">1.00</text>
<line x1="67.6" y1="901.8" x2="67.6" y2="904.5" stroke="#222" stroke-width="1.1"/>
<text x="67.6" y="911.8" font-size="7.6" text-anchor="middle" fill="#555">1.00</text>
<line x1="157.8" y1="901.8" x2="157.8" y2="904.5" stroke="#222" stroke-width="1.1"/>
<text x="157.8" y="911.8" font-size="7.6" text-anchor="middle" fill="#555">0.75</text>
<line x1="247.9" y1="901.8" x2="247.9" y2="904.5" stroke="#222" stroke-width="1.1"/>
<text x="247.9" y="911.8" font-size="7.6" text-anchor="middle" fill="#555">0.50</text>
<line x1="338.1" y1="901.8" x2="338.1" y2="904.5" stroke="#222" stroke-width="1.1"/>
<text x="338.1" y="911.8" font-size="7.6" text-anchor="middle" fill="#555">0.25</text>
<line x1="428.2" y1="901.8" x2="428.2" y2="904.5" stroke="#222" stroke-width="1.1"/>
<text x="428.2" y="911.8" font-size="7.6" text-anchor="middle" fill="#555">0.00</text>
<text transform="translate(25.7,703.9) rotate(-90)" font-size="9.7" text-anchor="middle" fill="#000">Sensitivity</text>
<text x="248.3" y="923.6" font-size="9.9" text-anchor="middle" fill="#000">1 - Specificity</text>
<text x="50.5" y="499.2" font-size="11.6" fill="#000">ROC Curves- 2022</text>
<text x="436.8" y="136.3" font-size="11.2" fill="#000">Parameters</text>
<line x1="438" y1="151.2" x2="452" y2="151.2" stroke="#C4AA1E" stroke-width="1.9"/>
<text x="459.5" y="154.5" font-size="9.1" fill="#222" stroke="#222" stroke-width="0.25">FVC AUC: 0.766</text>
<line x1="438" y1="168.7" x2="452" y2="168.7" stroke="#523E2A" stroke-width="1.9"/>
<text x="459.5" y="171.9" font-size="9.1" fill="#222" stroke="#222" stroke-width="0.25">FEV1 AUC: 0.796</text>
<line x1="438" y1="186.1" x2="452" y2="186.1" stroke="#8E3A20" stroke-width="1.9"/>
<text x="459.5" y="189.4" font-size="9.1" fill="#222" stroke="#222" stroke-width="0.25">MEF50 AUC: 0.573</text>
<line x1="438" y1="203.6" x2="452" y2="203.6" stroke="#1212CC" stroke-width="1.9"/>
<text x="459.5" y="206.9" font-size="9.1" fill="#222" stroke="#222" stroke-width="0.25">MEF25 AUC: 0.734</text>
<line x1="438" y1="221.0" x2="452" y2="221.0" stroke="#BA9ADC" stroke-width="1.9"/>
<text x="459.5" y="224.3" font-size="9.1" fill="#222" stroke="#222" stroke-width="0.25">DLCO1 AUC: 0.629</text>
<line x1="438" y1="238.5" x2="452" y2="238.5" stroke="#52407E" stroke-width="1.9"/>
<text x="459.5" y="241.8" font-size="9.1" fill="#222" stroke="#222" stroke-width="0.25">KCO1 AUC: 0.805</text>
<line x1="438" y1="256.0" x2="452" y2="256.0" stroke="#000000" stroke-width="1.9"/>
<text x="459.5" y="259.2" font-size="9.1" fill="#222" stroke="#222" stroke-width="0.25">AV AUC: 0.855</text>
<line x1="438" y1="273.4" x2="452" y2="273.4" stroke="#5E4E1C" stroke-width="1.9"/>
<text x="459.5" y="276.7" font-size="9.1" fill="#222" stroke="#222" stroke-width="0.25">DLCO2 AUC: 0.656</text>
<line x1="438" y1="290.9" x2="452" y2="290.9" stroke="#3E6E4C" stroke-width="1.9"/>
<text x="459.5" y="294.2" font-size="9.1" fill="#222" stroke="#222" stroke-width="0.25">KCO2 AUC: 0.754</text>
<line x1="438" y1="308.3" x2="452" y2="308.3" stroke="#36507C" stroke-width="1.9"/>
<text x="459.5" y="311.6" font-size="9.1" fill="#222" stroke="#222" stroke-width="0.25">TLC AUC: 0.857</text>
<line x1="438" y1="325.8" x2="452" y2="325.8" stroke="#2A4034" stroke-width="1.9"/>
<text x="459.5" y="329.1" font-size="9.1" fill="#222" stroke="#222" stroke-width="0.25">RV AUC: 0.677</text>
<text x="461.4" y="621.0" font-size="9.9" fill="#000">PARAMETERS</text>
<line x1="462.5" y1="635.4" x2="476.7" y2="635.4" stroke="#7A6460" stroke-width="1.5"/>
<text x="482.6" y="638.2" font-size="7.8" fill="#222" stroke="#222" stroke-width="0.25">MEF50: 0.656</text>
<line x1="462.5" y1="652.4" x2="476.7" y2="652.4" stroke="#4C5A7A" stroke-width="1.5"/>
<text x="482.6" y="655.2" font-size="7.8" fill="#222" stroke="#222" stroke-width="0.25">FEV1: 0.633</text>
<line x1="462.5" y1="669.4" x2="476.7" y2="669.4" stroke="#B59A6A" stroke-width="1.5"/>
<text x="482.6" y="672.2" font-size="7.8" fill="#222" stroke="#222" stroke-width="0.25">DLCO1: 0.621</text>
<line x1="462.5" y1="686.4" x2="476.7" y2="686.4" stroke="#8A7060" stroke-width="1.5"/>
<text x="482.6" y="689.2" font-size="7.8" fill="#222" stroke="#222" stroke-width="0.25">MEF25: 0.615</text>
<line x1="462.5" y1="703.4" x2="476.7" y2="703.4" stroke="#5A4E55" stroke-width="1.5"/>
<text x="482.6" y="706.2" font-size="7.8" fill="#222" stroke="#222" stroke-width="0.25">DLCO2: 0.609</text>
<line x1="462.5" y1="720.4" x2="476.7" y2="720.4" stroke="#5A70A0" stroke-width="1.5"/>
<text x="482.6" y="723.2" font-size="7.8" fill="#222" stroke="#222" stroke-width="0.25">TLC: 0.589</text>
<line x1="462.5" y1="737.4" x2="476.7" y2="737.4" stroke="#806860" stroke-width="1.5"/>
<text x="482.6" y="740.2" font-size="7.8" fill="#222" stroke="#222" stroke-width="0.25">FVC: 0.582</text>
<line x1="462.5" y1="754.4" x2="476.7" y2="754.4" stroke="#B0A080" stroke-width="1.5"/>
<text x="482.6" y="757.2" font-size="7.8" fill="#222" stroke="#222" stroke-width="0.25">AV: 0.575</text>
<line x1="462.5" y1="771.4" x2="476.7" y2="771.4" stroke="#6A80B8" stroke-width="1.5"/>
<text x="482.6" y="774.2" font-size="7.8" fill="#222" stroke="#222" stroke-width="0.25">KCO1: 0.566</text>
<line x1="462.5" y1="788.4" x2="476.7" y2="788.4" stroke="#A0B8D8" stroke-width="1.5"/>
<text x="482.6" y="791.2" font-size="7.8" fill="#222" stroke="#222" stroke-width="0.25">RV: 0.488</text>
<text x="278.6" y="480" font-size="15.4" font-family="'Liberation Serif', serif" font-weight="bold" text-anchor="middle" fill="#000">(a)</text>
<text x="278" y="949.4" font-size="16.4" font-family="'Liberation Serif', serif" font-weight="bold" text-anchor="middle" fill="#000">(b)</text>
<circle cx="313.8" cy="275" r="0.9" fill="#555"/>
<circle cx="220.5" cy="117.4" r="0.9" fill="#555"/>
<circle cx="71" cy="541.8" r="0.9" fill="#555"/>
<circle cx="328.2" cy="686.8" r="0.9" fill="#555"/>
<circle cx="436" cy="143.5" r="0.9" fill="#555"/>
</svg>
</body></html>
